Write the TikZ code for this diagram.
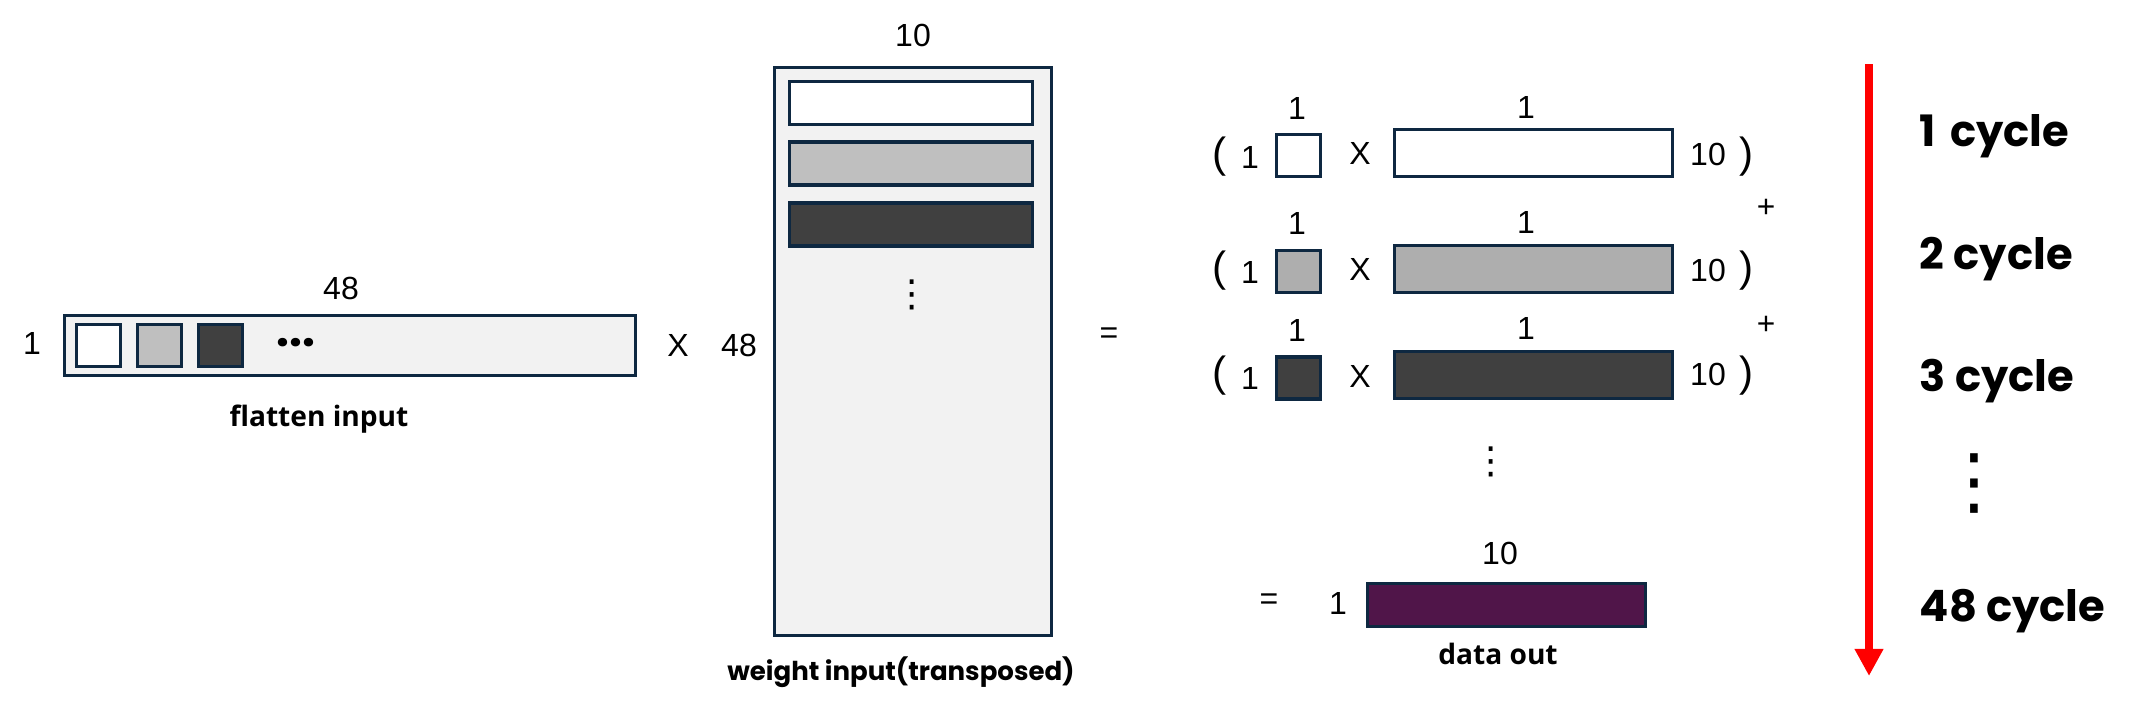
\documentclass[tikz,border=0pt]{standalone}
\usepackage{fontspec}
\setmainfont{Liberation Sans}
\newfontfamily\poppins{Poppins}
\newfontfamily\capfont{Open Sans}
\newfontfamily\dotfont{DejaVu Sans}
\usetikzlibrary{positioning, arrows.meta}

\definecolor{navy}{HTML}{0E2841}
\definecolor{paper}{HTML}{F2F2F2}
\definecolor{midgray}{HTML}{BFBFBF}
\definecolor{bargray}{HTML}{AEAEAE}
\definecolor{darkgray}{HTML}{404040}
\definecolor{plum}{HTML}{501549}

\begin{document}
\begin{tikzpicture}[x=0.01cm, y=-0.01cm]
    \tikzset{
        box/.style = {rectangle, draw=navy, line width=0.9pt, inner sep=0pt},
        frame/.style = {box, fill=paper},
        cell/.style = {box, minimum width=0.44cm, minimum height=0.42cm},
        row/.style = {box, minimum width=2.43cm, minimum height=0.43cm},
        bar/.style = {box, minimum width=2.78cm, minimum height=0.47cm},
        num/.style = {inner sep=0pt, font=\fontsize{9.1}{11}\selectfont},
        paren/.style = {inner sep=0pt, font=\fontsize{12}{14}\selectfont},
        plus/.style = {inner sep=0pt, font=\fontsize{9}{11}\selectfont},
        vdot/.style = {inner sep=0pt, font=\dotfont\fontsize{10.6}{12}\selectfont},
        caption/.style = {inner sep=0pt, font=\capfont\bfseries\fontsize{8}{10}\selectfont},
        cycle/.style = {inner sep=0pt, anchor=base west, font=\poppins\bfseries\fontsize{12.3}{15}\selectfont},
        line/.style = {draw=red, line width=2.5pt, -{Triangle[width=0.27cm, length=0.27cm]}},
    }
    \useasboundingbox (0,0) rectangle (2152,709);

    % flatten input
    \node[frame, minimum width=5.71cm, minimum height=0.60cm](flat) at (350,345.5){};
    \node[cell, fill=white](f1) at (98.5,345.5){};
    \node[cell, fill=midgray](f2)[right = 0.14cm of f1]{};
    \node[cell, fill=darkgray](f3)[right = 0.14cm of f2]{};
    \node[inner sep=0pt, font=\poppins\bfseries\fontsize{13}{15}\selectfont](fdots) at (296,343){...};
    \node[num](flatrows) at (32,343){1};
    \node[num](flatcols) at (341,288){48};
    \node[caption](flatcap) at (319,419){flatten input};

    \node[num](times) at (678,345){X};

    % weight input
    \node[num](wrows) at (739,345){48};
    \node[frame, minimum width=2.77cm, minimum height=5.68cm](weight) at (913,351.5){};
    \node[row, fill=white](w1) at (911,103){};
    \node[row, fill=midgray](w2) at (911,163.5){};
    \node[row, fill=darkgray](w3) at (911,224.5){};
    \node[vdot](wdots) at (912,295){⋮};
    \node[num](wcols) at (913,35){10};
    \node[caption, font=\poppins\bfseries\fontsize{7.4}{10}\selectfont](wcap) at (901,672){weight input(transposed)};

    \node[num](equal) at (1109,336){=};

    % cycle 1
    \node[paren](lp1) at (1220,157){(};
    \node[num](a1) at (1250,157){1};
    \node[cell, fill=white](c1) at (1298.5,155.5){};
    \node[num](c1top) at (1297,108){1};
    \node[num](x1) at (1360,153){X};
    \node[bar, fill=white](b1) at (1533.5,153){};
    \node[num](b1top) at (1526,107){1};
    \node[num](b1end) at (1708,154){10};
    \node[paren](rp1) at (1746,157){)};
    \node[plus](plus1) at (1766,208){+};

    % cycle 2
    \node[paren](lp2) at (1220,271){(};
    \node[num](a2) at (1250,272){1};
    \node[cell, fill=bargray](c2) at (1298.5,271.5){};
    \node[num](c2top) at (1297,223){1};
    \node[num](x2) at (1360,269){X};
    \node[bar, fill=bargray](b2) at (1533.5,269){};
    \node[num](b2top) at (1526,222){1};
    \node[num](b2end) at (1708,270){10};
    \node[paren](rp2) at (1746,271){)};
    \node[plus](plus2) at (1766,325){+};

    % cycle 3
    \node[paren](lp3) at (1220,376){(};
    \node[num](a3) at (1250,378){1};
    \node[cell, fill=darkgray](c3) at (1298.5,378){};
    \node[num](c3top) at (1297,330){1};
    \node[num](x3) at (1360,376){X};
    \node[bar, fill=darkgray](b3) at (1533.5,375){};
    \node[num](b3top) at (1526,328){1};
    \node[num](b3end) at (1708,374){10};
    \node[paren](rp3) at (1746,376){)};

    \node[vdot](rdots) at (1491,462){⋮};

    % data out
    \node[num](equal2) at (1269,602){=};
    \node[num](outrows) at (1338,603){1};
    \node[box, fill=plum, minimum width=2.78cm, minimum height=0.43cm](out) at (1506.5,605){};
    \node[num](outcols) at (1500,553){10};
    \node[caption](outcap) at (1498,654){data out};

    % cycles
    \coordinate (tstart) at (1869,64);
    \coordinate (tend) at (1869,676);
    \path [line] (tstart) -- (tend);

    \node[cycle](cy1) at (1919,146){1\hspace{0.12em} cycle};
    \node[cycle](cy2) at (1919,269){2 cycle};
    \node[cycle](cy3) at (1919,391){3 cycle};
    \node[inner sep=0pt, font=\dotfont\fontsize{21}{24}\selectfont](cydots) at (1974,484){⋮};
    \node[cycle](cy48) at (1919,621){48 cycle};

\end{tikzpicture}
\end{document}
